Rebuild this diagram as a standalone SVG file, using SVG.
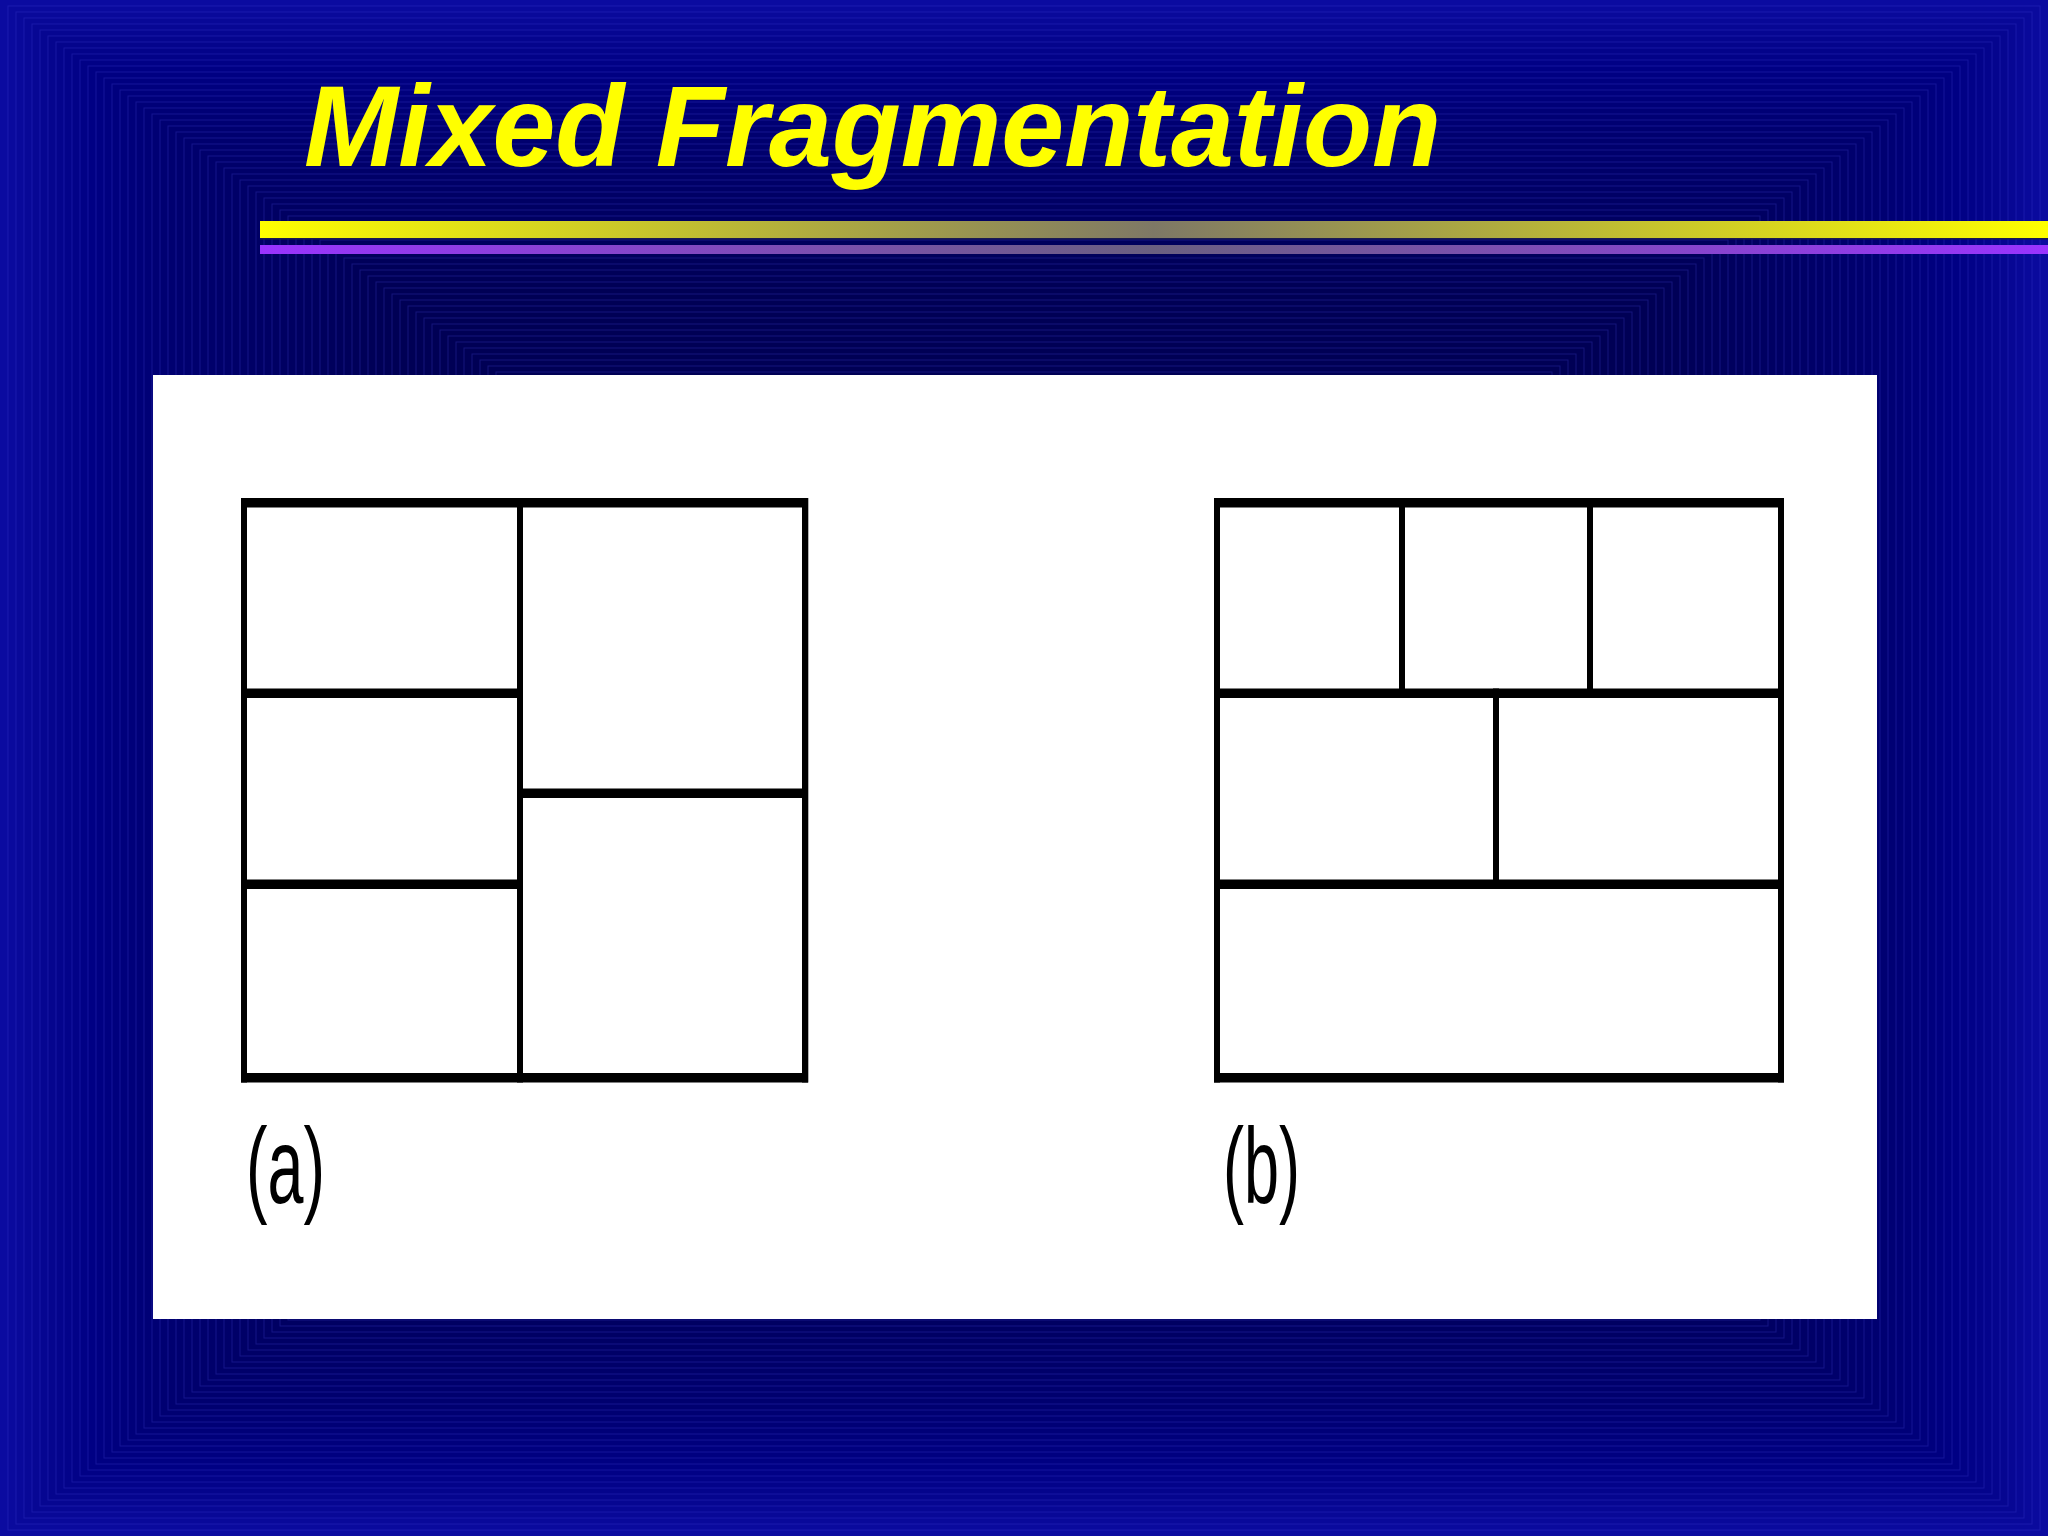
<svg xmlns="http://www.w3.org/2000/svg" width="2048" height="1536" viewBox="0 0 2048 1536">
<style>
.bg rect{fill:#000060;fill-opacity:0.036;stroke:#4646d8;stroke-opacity:0.3;stroke-width:1}
.ln{fill:#000000}
.lbl{font-family:"Liberation Sans",Arial,sans-serif;font-size:108px;fill:#000000}
.title{font-family:"Liberation Sans",Arial,sans-serif;font-size:115px;font-weight:bold;font-style:italic;fill:#FFFF00}
</style>
<defs>
<linearGradient id="gy" x1="0" y1="0" x2="1" y2="0">
<stop offset="0" stop-color="#FFFF00"/>
<stop offset="0.5" stop-color="#7E7866"/>
<stop offset="1" stop-color="#FFFF00"/>
</linearGradient>
<linearGradient id="gp" x1="0" y1="0" x2="1" y2="0">
<stop offset="0" stop-color="#9933FF"/>
<stop offset="0.5" stop-color="#6A6080"/>
<stop offset="1" stop-color="#9933FF"/>
</linearGradient>
</defs>
<rect x="0" y="0" width="2048" height="1536" fill="#0B0BA0"/>
<g class="bg">
<rect x="8" y="6" width="2032" height="1524"/>
<rect x="16" y="12" width="2016" height="1512"/>
<rect x="24" y="18" width="2000" height="1500"/>
<rect x="32" y="24" width="1984" height="1488"/>
<rect x="40" y="30" width="1968" height="1476"/>
<rect x="48" y="36" width="1952" height="1464"/>
<rect x="56" y="42" width="1936" height="1452"/>
<rect x="64" y="48" width="1920" height="1440"/>
<rect x="72" y="54" width="1904" height="1428"/>
<rect x="80" y="60" width="1888" height="1416"/>
<rect x="88" y="66" width="1872" height="1404"/>
<rect x="96" y="72" width="1856" height="1392"/>
<rect x="104" y="78" width="1840" height="1380"/>
<rect x="112" y="84" width="1824" height="1368"/>
<rect x="120" y="90" width="1808" height="1356"/>
<rect x="128" y="96" width="1792" height="1344"/>
<rect x="136" y="102" width="1776" height="1332"/>
<rect x="144" y="108" width="1760" height="1320"/>
<rect x="152" y="114" width="1744" height="1308"/>
<rect x="160" y="120" width="1728" height="1296"/>
<rect x="168" y="126" width="1712" height="1284"/>
<rect x="176" y="132" width="1696" height="1272"/>
<rect x="184" y="138" width="1680" height="1260"/>
<rect x="192" y="144" width="1664" height="1248"/>
<rect x="200" y="150" width="1648" height="1236"/>
<rect x="208" y="156" width="1632" height="1224"/>
<rect x="216" y="162" width="1616" height="1212"/>
<rect x="224" y="168" width="1600" height="1200"/>
<rect x="232" y="174" width="1584" height="1188"/>
<rect x="240" y="180" width="1568" height="1176"/>
<rect x="248" y="186" width="1552" height="1164"/>
<rect x="256" y="192" width="1536" height="1152"/>
<rect x="264" y="198" width="1520" height="1140"/>
<rect x="272" y="204" width="1504" height="1128"/>
<rect x="280" y="210" width="1488" height="1116"/>
<rect x="288" y="216" width="1472" height="1104"/>
<rect x="296" y="222" width="1456" height="1092"/>
<rect x="304" y="228" width="1440" height="1080"/>
<rect x="312" y="234" width="1424" height="1068"/>
<rect x="320" y="240" width="1408" height="1056"/>
<rect x="328" y="246" width="1392" height="1044"/>
<rect x="336" y="252" width="1376" height="1032"/>
<rect x="344" y="258" width="1360" height="1020"/>
<rect x="352" y="264" width="1344" height="1008"/>
<rect x="360" y="270" width="1328" height="996"/>
<rect x="368" y="276" width="1312" height="984"/>
<rect x="376" y="282" width="1296" height="972"/>
<rect x="384" y="288" width="1280" height="960"/>
<rect x="392" y="294" width="1264" height="948"/>
<rect x="400" y="300" width="1248" height="936"/>
<rect x="408" y="306" width="1232" height="924"/>
<rect x="416" y="312" width="1216" height="912"/>
<rect x="424" y="318" width="1200" height="900"/>
<rect x="432" y="324" width="1184" height="888"/>
<rect x="440" y="330" width="1168" height="876"/>
<rect x="448" y="336" width="1152" height="864"/>
<rect x="456" y="342" width="1136" height="852"/>
<rect x="464" y="348" width="1120" height="840"/>
<rect x="472" y="354" width="1104" height="828"/>
<rect x="480" y="360" width="1088" height="816"/>
<rect x="488" y="366" width="1072" height="804"/>
<rect x="496" y="372" width="1056" height="792"/>
</g>
<g id="title">
<text class="title" x="304" y="166" textLength="1137" lengthAdjust="spacingAndGlyphs">Mixed Fragmentation</text>
</g>
<g id="bars">
<rect x="260" y="221" width="1788" height="17" fill="url(#gy)"/>
<rect x="260" y="238" width="1788" height="1.5" fill="#1a1a50"/>
<rect x="260" y="245" width="1788" height="9" fill="url(#gp)"/>
</g>
<rect id="panel" x="153" y="375" width="1724" height="944" fill="#FFFFFF"/>
<g id="fig-a">
<rect class="ln" x="241" y="498" width="567" height="9.5"/>
<rect class="ln" x="241" y="1073" width="567" height="9.5"/>
<rect class="ln" x="241" y="498" width="6" height="584.5"/>
<rect class="ln" x="802" y="498" width="6.3" height="584.5"/>
<rect class="ln" x="517" y="498" width="6" height="584.5"/>
<rect class="ln" x="241" y="688.5" width="282" height="9.5"/>
<rect class="ln" x="241" y="879.5" width="282" height="9.5"/>
<rect class="ln" x="517" y="788.5" width="291" height="9.5"/>
</g>
<g id="fig-b">
<rect class="ln" x="1214" y="498" width="570" height="9.5"/>
<rect class="ln" x="1214" y="1073" width="570" height="9.5"/>
<rect class="ln" x="1214" y="498" width="6" height="584.5"/>
<rect class="ln" x="1778" y="498" width="6" height="584.5"/>
<rect class="ln" x="1214" y="688.5" width="570" height="9.5"/>
<rect class="ln" x="1214" y="879.5" width="570" height="9.5"/>
<rect class="ln" x="1399" y="498" width="6" height="200"/>
<rect class="ln" x="1587" y="498" width="6" height="200"/>
<rect class="ln" x="1493" y="688.5" width="6" height="200.5"/>
</g>
<g id="label-a">
<text class="lbl" x="246" y="1203" textLength="79" lengthAdjust="spacingAndGlyphs">(a)</text>
</g>
<g id="label-b">
<text class="lbl" x="1223" y="1203" textLength="77" lengthAdjust="spacingAndGlyphs">(b)</text>
</g>
<g id="connectors"></g>
</svg>
